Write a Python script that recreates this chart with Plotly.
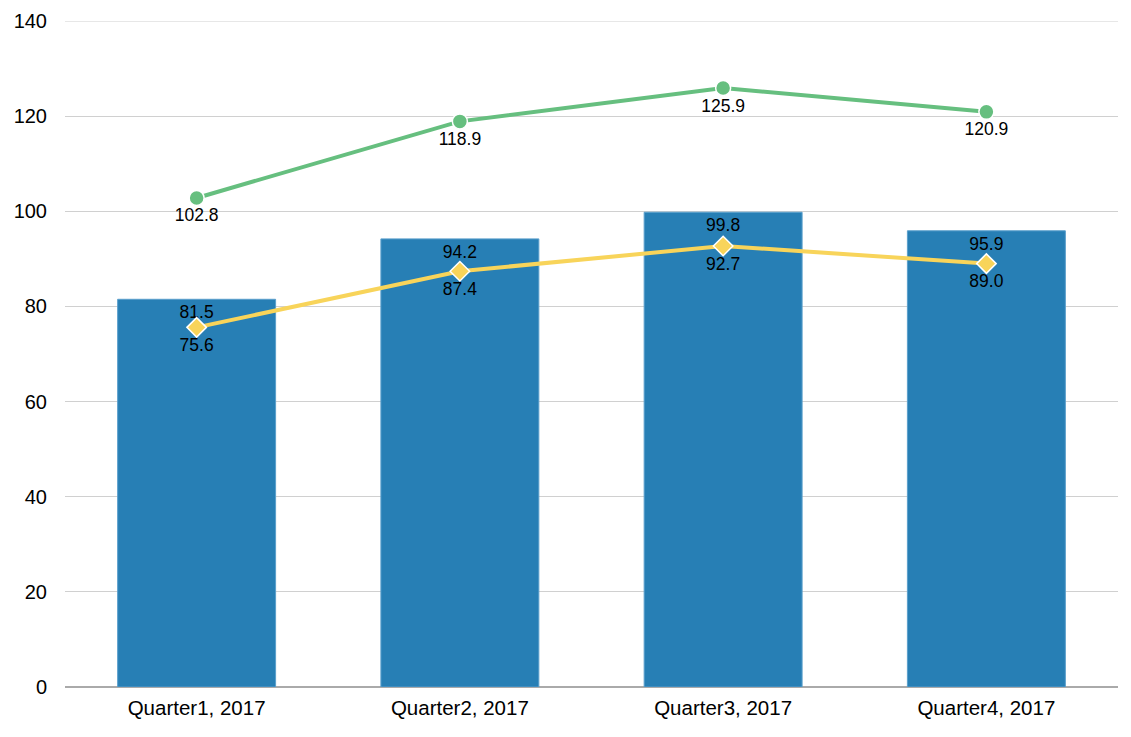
import plotly.graph_objects as go

categories = ["Quarter1, 2017", "Quarter2, 2017", "Quarter3, 2017", "Quarter4, 2017"]
bar_values = [81.5, 94.2, 99.8, 95.9]
green_values = [102.8, 118.9, 125.9, 120.9]
yellow_values = [75.6, 87.4, 92.7, 89.0]
y_max = 140

label_font = dict(color="black", size=17.5, family="Liberation Sans")

fig = go.Figure()
fig.add_trace(go.Bar(
    x=categories, y=bar_values,
    marker=dict(color="#277fb5", line=dict(color="#5a9fcc", width=1)),
    text=[f"{v:.1f}" for v in bar_values],
    textposition="inside", insidetextanchor="end",
    textfont=label_font,
    width=0.6, cliponaxis=False, showlegend=False,
))
fig.add_trace(go.Scatter(
    x=categories, y=green_values, mode="lines+markers+text",
    line=dict(color="#66bf7f", width=4),
    marker=dict(symbol="circle", size=15, color="#66bf7f", line=dict(color="white", width=1.5)),
    text=[f"{v:.1f}" for v in green_values], textposition="bottom center",
    textfont=label_font,
    showlegend=False,
))
fig.add_trace(go.Scatter(
    x=categories, y=yellow_values, mode="lines+markers+text",
    line=dict(color="#f8d45a", width=4),
    marker=dict(symbol="diamond", size=15, color="#f8d45a", line=dict(color="white", width=1.5)),
    text=[f"{v:.1f}" for v in yellow_values], textposition="bottom center",
    textfont=label_font,
    showlegend=False,
))

fig.add_shape(type="line", xref="paper", yref="y", x0=0, x1=1, y0=y_max, y1=y_max,
              line=dict(color="#d0d0d0", width=1), layer="below")

fig.update_layout(
    width=1123, height=729,
    margin=dict(l=57, r=13, t=13, b=50, autoexpand=False),
    plot_bgcolor="white", paper_bgcolor="white",
    font=dict(family="Liberation Sans", size=20, color="black"),
    bargap=0.4,
)
fig.update_yaxes(range=[0, y_max], dtick=20, gridcolor="#d0d0d0", gridwidth=1,
                 zeroline=True, zerolinecolor="#aaaaaa", zerolinewidth=2, automargin=False,
                 ticks="", ticklabelstandoff=17, tickfont=dict(size=20))
fig.update_xaxes(showgrid=False, ticks="", tickfont=dict(size=20.5), ticklabelstandoff=6,
                 automargin=False)

fig.write_html("out.html")
